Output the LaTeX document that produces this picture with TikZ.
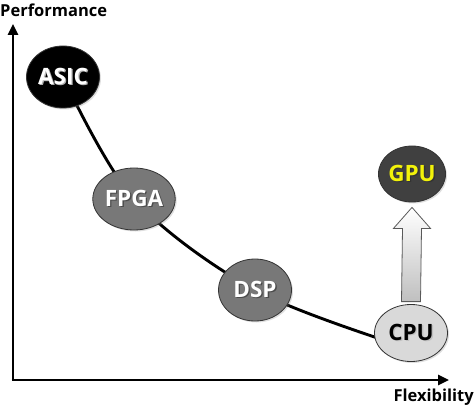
\documentclass[tikz,border=0pt]{standalone}
\usepackage{fontspec}
\setmainfont{Open Sans}
\usetikzlibrary{shapes.geometric,arrows.meta,shadows,backgrounds,calc}
\definecolor{midgray}{HTML}{787878}
\definecolor{lightgray2}{HTML}{D9D9D9}
\definecolor{darkgray2}{HTML}{404040}
\definecolor{gpuyellow}{HTML}{F2F20A}
\newcommand{\shadowed}[3]{\leavevmode\rlap{\hspace{1.3pt}\raisebox{-1.3pt}{\textcolor{#2}{#3}}}\textcolor{#1}{#3}}
\begin{document}
\begin{tikzpicture}[x=1pt,y=-1pt,
  chip/.style={ellipse, draw=black!80, line width=0.8pt, inner sep=0pt,
    minimum width=73pt, minimum height=62pt, font=\fontsize{22.5}{26}\selectfont\bfseries,
    drop shadow={opacity=0.25, shadow xshift=1.5pt, shadow yshift=-1.5pt}},
  axis/.style={line width=2.6pt, -{Triangle[length=11pt,width=10pt]}},
  curveline/.style={line width=2.9pt, black},
  axislabel/.style={font=\fontsize{16.5}{18}\selectfont\bfseries, inner sep=0pt},
  blockarrow/.style={draw=black!65, line width=0.8pt, top color=white, bottom color=gray!50}
]
\useasboundingbox (0,0) rectangle (474,409);
\coordinate (O) at (13,380);
\coordinate (ytip) at (13,24);
\coordinate (xtip) at (449,380);
\draw[axis] (O) -- (ytip);
\draw[axis] ($(O)+(-1.3,0)$) -- (xtip);
\node[axislabel, anchor=west] (perf) at (0,10) {Performance};
\node[axislabel, anchor=east] (flex) at (474,397) {Flexibility};

\node[chip, fill=black] (ASIC) at (63,77) {\shadowed{white}{gray!60}{ASIC}};
\node[chip, fill=midgray] (FPGA) at (134,199) {\shadowed{white}{black!70}{FPGA}};
\node[chip, fill=midgray] (DSP) at (255,290) {\shadowed{white}{black!70}{DSP}};
\node[chip, fill=lightgray2, minimum height=57pt] (CPU) at (411,333) {\shadowed{black}{gray!50}{CPU}};
\node[chip, fill=darkgray2, minimum width=66pt, minimum height=56pt] (GPU) at (412,174) {\shadowed{gpuyellow}{black!80}{GPU}};

\begin{scope}[on background layer]
\draw[curveline] plot[smooth, tension=0.55] coordinates {(ASIC.center) (FPGA.center) (DSP.center) ($(CPU.center)+(-12,12)$)};
\end{scope}

\coordinate (abot) at ($(CPU.north)+(0,-2.5)$);
\coordinate (atip) at ($(GPU.south)+(0,5)$);
\path[blockarrow] (atip) -- ($(atip)+(18.5,21)$) -- ($(atip)+(9.5,21)$) -- ($(abot)+(9.5,0)$)
  -- ($(abot)+(-9.5,0)$) -- ($(atip)+(-9.5,21)$) -- ($(atip)+(-18.5,21)$) -- cycle;
\end{tikzpicture}
\end{document}
